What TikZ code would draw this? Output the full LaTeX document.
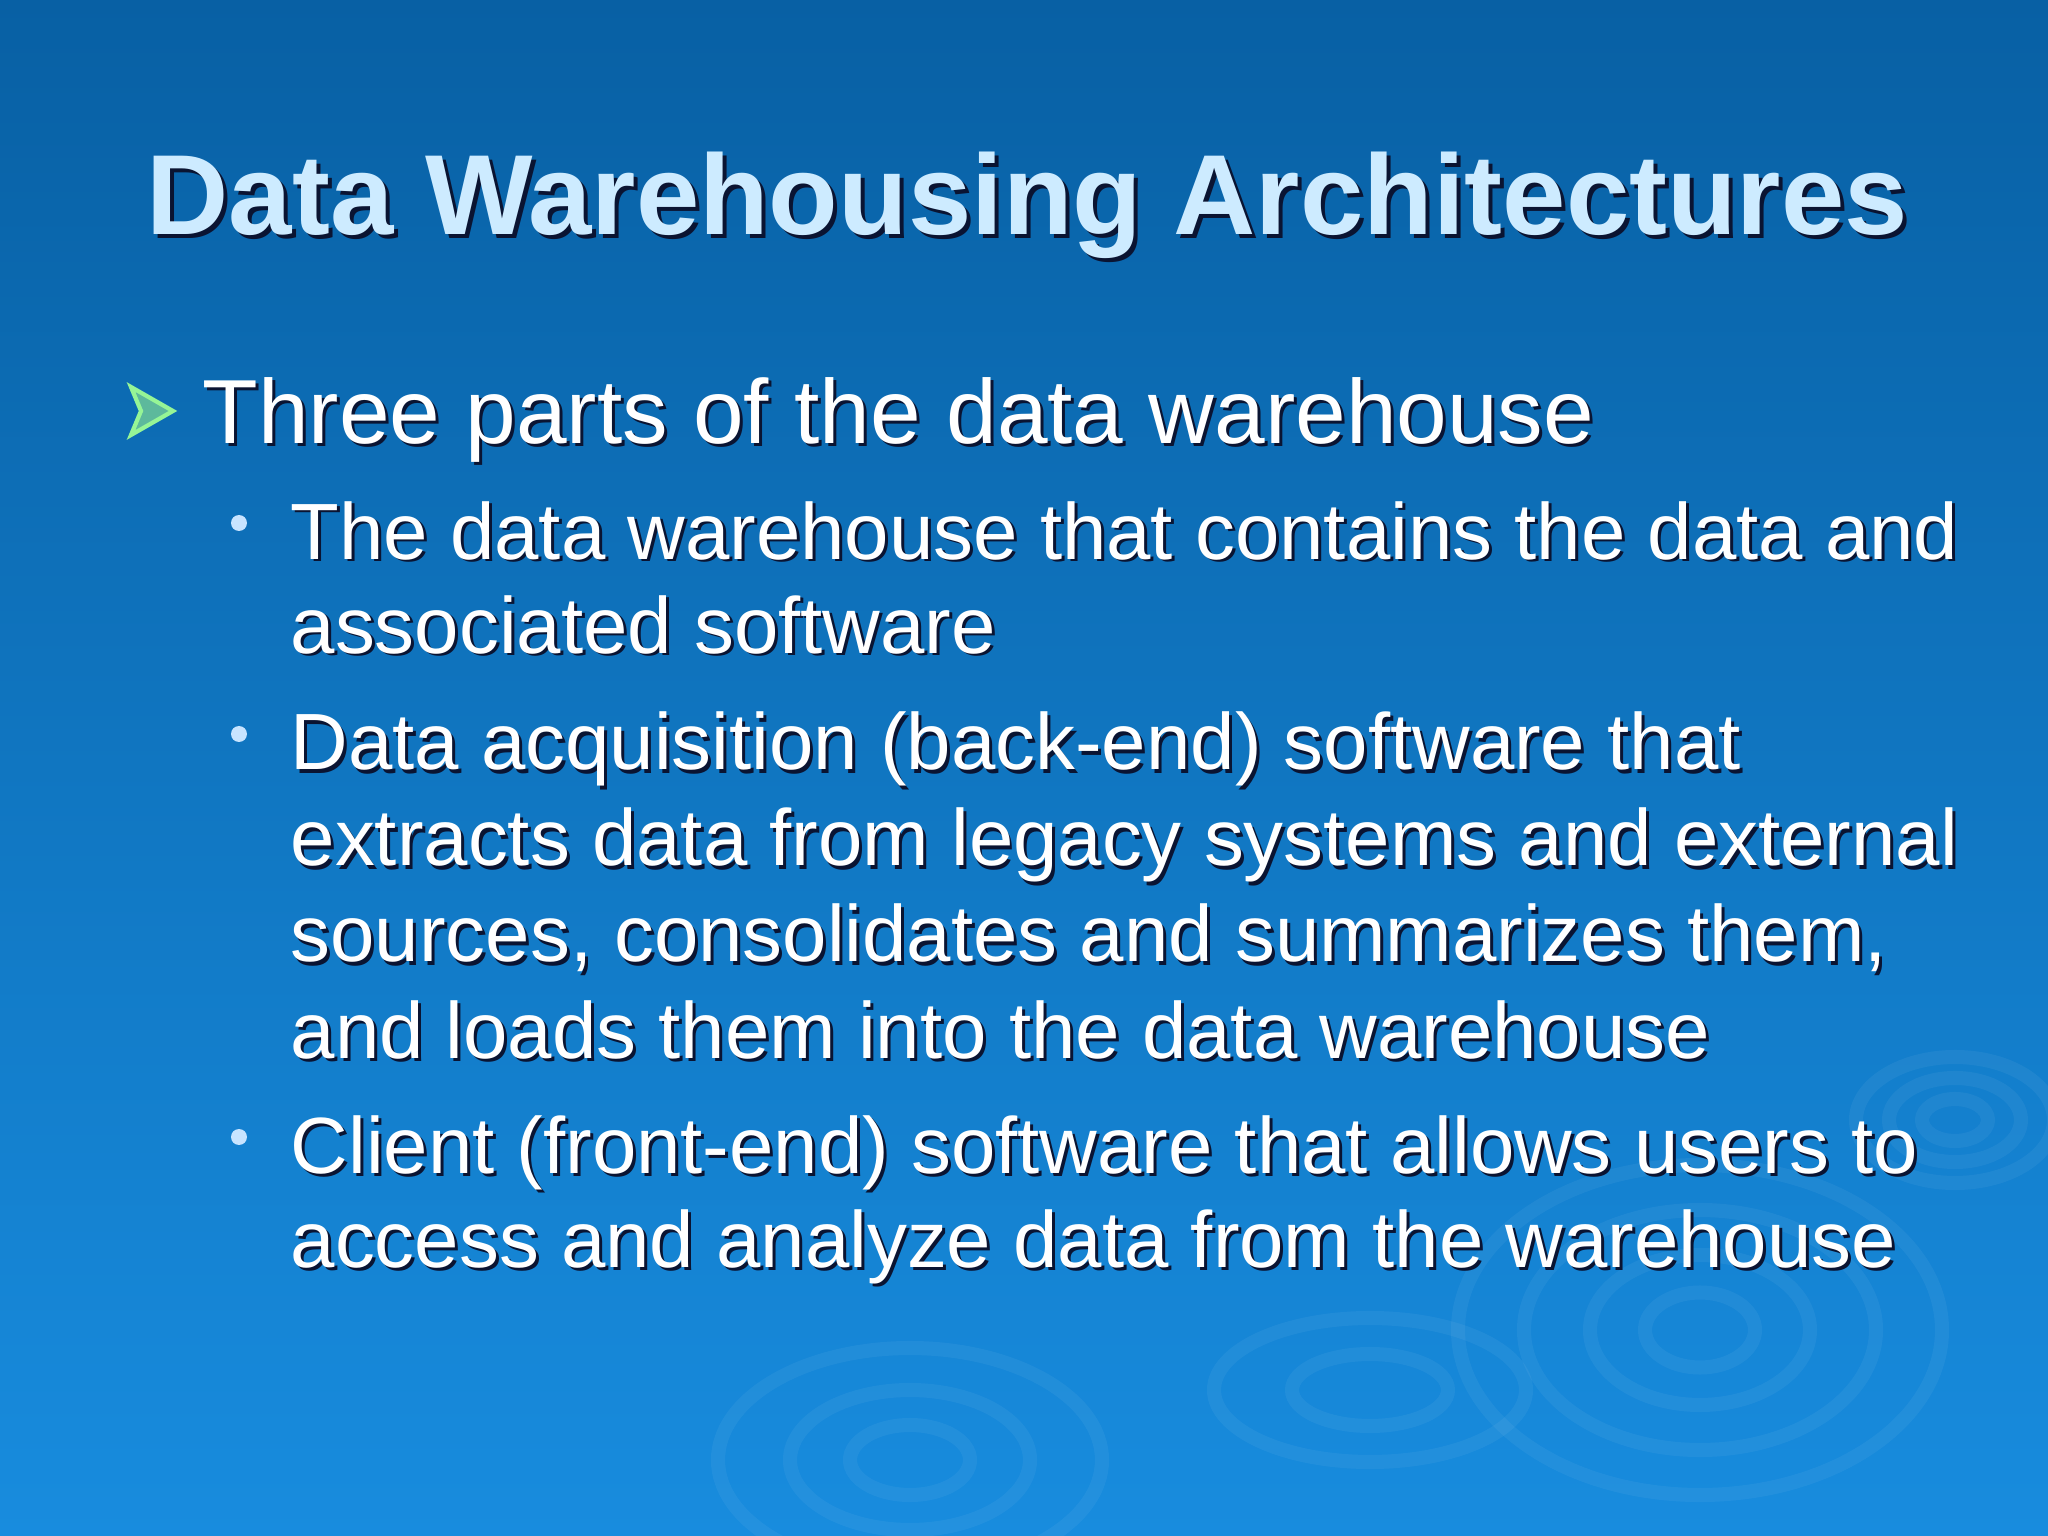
\documentclass[tikz,border=0pt]{standalone}
\usepackage{fontspec}
\setmainfont{Liberation Sans}
\definecolor{bgtop}{RGB}{8,96,164}
\definecolor{bgbot}{RGB}{24,140,222}
\definecolor{ttlc}{RGB}{205,235,255}
\definecolor{arrc}{RGB}{150,245,150}
\definecolor{dotc}{RGB}{200,228,255}
\definecolor{shd}{RGB}{10,20,50}
\begin{document}
\begin{tikzpicture}[x=1cm,y=1cm,
  ttl/.style={anchor=base west,inner sep=0pt,font=\fontsize{32.4}{40}\selectfont\bfseries},
  lvl/.style={anchor=base west,inner sep=0pt,font=\fontsize{25.9}{30}\selectfont},
  sub/.style={anchor=base west,inner sep=0pt,font=\fontsize{22.7}{27}\selectfont}]
\shade[top color=bgtop,bottom color=bgbot] (0,0) rectangle (20.48,-15.36);
\useasboundingbox (0,0) rectangle (20.48,-15.36);
\begin{scope}[draw=white,opacity=0.05,line width=4pt]
\foreach \r in {0.5,1.0,1.6,2.2} \draw (17.0,-13.3) ellipse ({\r*1.1} and {\r*0.75});
\foreach \r in {0.3,0.6,0.9} \draw (19.55,-11.2) ellipse ({\r*1.1} and {\r*0.7});
\foreach \r in {0.5,1.0,1.6} \draw (9.1,-14.6) ellipse ({\r*1.2} and {\r*0.7});
\foreach \r in {0.6,1.2} \draw (13.7,-13.9) ellipse ({\r*1.3} and {\r*0.6});
\end{scope}
\node[ttl,text=shd] at (1.50,-2.39) {Data Warehousing Architectures};
\node[ttl,text=ttlc] (title) at (1.46,-2.35) {Data Warehousing Architectures};
\coordinate (arr) at (1.31,-4.11);
\draw[arrc,fill=arrc!60!bgtop,line width=1.2pt,line join=miter] (arr) ++(0,0.24) -- ++(0.42,-0.24) -- ++(-0.42,-0.24) -- ++(0.1,0.24) -- cycle;
\foreach \c/\o in {shd/0.03,white/0} {
\node[lvl,text=\c] at (2.02+\o,-4.44-\o) {Three parts of the data warehouse};
\foreach \y/\t in {5.59/{The data warehouse that contains the data and},
  6.53/{associated software},
  7.70/{Data acquisition (back-end) software that},
  8.66/{extracts data from legacy systems and external},
  9.62/{sources, consolidates and summarizes them,},
  10.58/{and loads them into the data warehouse},
  11.73/{Client (front-end) software that allows users to},
  12.67/{access and analyze data from the warehouse}}
  \node[sub,text=\c] at (2.90+\o,-\y-\o) {\t};
}
\foreach \y in {5.59,7.70,11.73}
  \fill[dotc] (2.39,-\y+0.36) circle (0.08);
\end{tikzpicture}
\end{document}
